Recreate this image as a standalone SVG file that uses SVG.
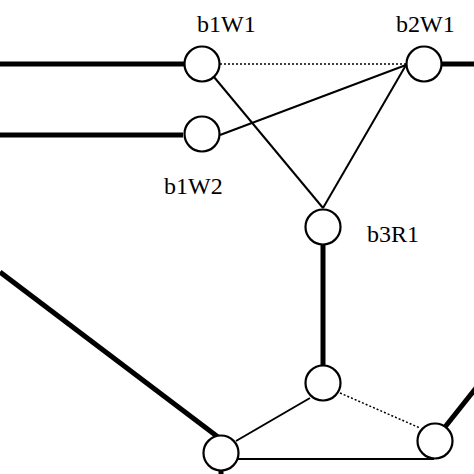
<svg xmlns="http://www.w3.org/2000/svg" width="474" height="474" viewBox="0 0 474 474">
<style>
.thick{stroke:#000;stroke-width:5;fill:none}
.thin{stroke:#000;stroke-width:2;fill:none}
.dot{stroke:#000;stroke-width:1.5;stroke-dasharray:2,2;fill:none}
.node{fill:#fff;stroke:#000;stroke-width:2.2}
.lbl{font-family:"Liberation Serif","Times New Roman",serif;font-size:24px;fill:#000}
</style>
<rect width="474" height="474" fill="#fff"/>
<g id="connectors">
<line class="thick" x1="0" y1="64" x2="184" y2="64"/>
<line class="thick" x1="0" y1="135" x2="183" y2="135"/>
<line class="thick" x1="442" y1="64" x2="474" y2="64"/>
<line class="dot" x1="220" y1="64" x2="406" y2="64"/>
<line class="thin" x1="214" y1="77" x2="323" y2="208"/>
<line class="thin" x1="406" y1="65" x2="323" y2="208"/>
<line class="thin" x1="220" y1="135" x2="406" y2="65"/>
<line class="thick" x1="323" y1="245" x2="323" y2="366"/>
<line class="thick" x1="0" y1="272" x2="218" y2="437"/>
<line class="thin" x1="236" y1="441" x2="310" y2="398"/>
<line class="dot" x1="340" y1="393" x2="420" y2="428"/>
<line class="thin" x1="238" y1="459" x2="434" y2="459"/>
<line class="thick" x1="445" y1="427" x2="476" y2="388"/>
<line class="thick" x1="221" y1="468" x2="221" y2="476"/>
</g>
<g id="b1W1"><circle class="node" cx="202" cy="64" r="17.5"/><text class="lbl" x="197" y="32">b1W1</text></g>
<g id="b2W1"><circle class="node" cx="424" cy="64" r="17.5"/><text class="lbl" x="396" y="32">b2W1</text></g>
<g id="b1W2"><circle class="node" cx="202" cy="134" r="17.5"/><text class="lbl" x="164" y="194">b1W2</text></g>
<g id="b3R1"><circle class="node" cx="323" cy="227" r="17.5"/><text class="lbl" x="367" y="242">b3R1</text></g>
<g id="n5"><circle class="node" cx="323" cy="383" r="17.5"/></g>
<g id="n6"><circle class="node" cx="221" cy="453" r="17.5"/></g>
<g id="n7"><circle class="node" cx="435" cy="441" r="17.5"/></g>
</svg>
